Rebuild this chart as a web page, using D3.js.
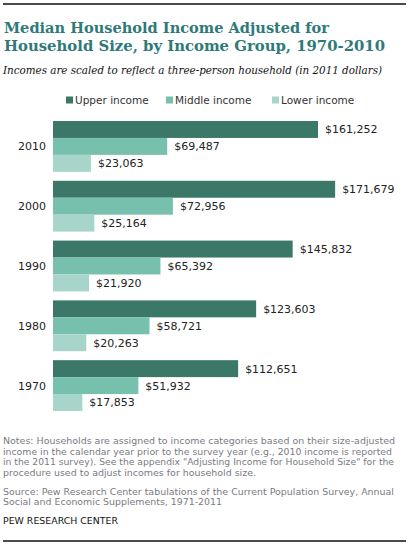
<!DOCTYPE html>
<html lang="en">
    <head>
       <script src="https://d3js.org/d3.v7.min.js"></script>
       <style>
           body { margin: 0; background: #fff; }
       </style>
    </head>
    <body>

        <script>
            var width  = 412;
            var height = 546;

            // chart data
            var years  = ["2010", "2000", "1990", "1980", "1970"];
            var series = ["Upper income", "Middle income", "Lower income"];
            var upper  = [161252, 171679, 145832, 123603, 112651];
            var middle = [69487, 72956, 65392, 58721, 51932];
            var lower  = [23063, 25164, 21920, 20263, 17853];
            var colors = ["#3b7867", "#78c0ae", "#a8d5c9"];

            var notes = [
                "Notes: Households are assigned to income categories based on their size-adjusted",
                "income in the calendar year prior to the survey year (e.g., 2010 income is reported",
                "in the 2011 survey).  See the appendix \"Adjusting Income  for Household Size\" for the",
                "procedure used to adjust incomes for household size."
            ];
            var notesWidth = [392, 389, 391, 253];
            var source = [
                "Source: Pew Research Center tabulations of the Current Population Survey, Annual",
                "Social and Economic Supplements, 1971-2011"
            ];
            var sourceWidth = [391, 219];

            var values = [upper, middle, lower];

            // setup the canvas
            var svg = d3.select("body")
                        .append("svg")
                        .attr("width", width)
                        .attr("height", height);

            // rules top and bottom
            svg.append("line").attr("x1", 3).attr("x2", 406).attr("y1", 4).attr("y2", 4)
               .style("stroke", "#111").style("stroke-width", 1.5);
            svg.append("line").attr("x1", 3).attr("x2", 406).attr("y1", 541).attr("y2", 541)
               .style("stroke", "#111").style("stroke-width", 1.5);

            // title + subtitle
            var title = ["Median Household Income Adjusted for", "Household Size, by Income Group, 1970-2010"];
            var titleWidth = [325, 381];
            svg.selectAll(".title").data(title).enter().append("text")
               .attr("x", 4)
               .attr("y", function(d, i) { return 33 + i * 18; })
               .attr("textLength", function(d, i) { return titleWidth[i]; })
               .attr("lengthAdjust", "spacingAndGlyphs")
               .style("font-family", "'DejaVu Serif', Georgia, serif")
               .style("font-weight", "bold")
               .style("font-size", "14.5px")
               .style("fill", "#2f7a78")
               .text(function(d) { return d; });

            svg.append("text")
               .attr("x", 3).attr("y", 74)
               .attr("textLength", 379)
               .attr("lengthAdjust", "spacingAndGlyphs")
               .style("font-family", "'DejaVu Serif', Georgia, serif")
               .style("font-style", "italic")
               .style("font-size", "11px")
               .style("fill", "#111")
               .text("Incomes are scaled to reflect a three-person household (in 2011 dollars)");

            // legend
            var legendX = [66, 166, 272];
            var legend = svg.selectAll(".legend").data(series).enter().append("g")
               .attr("transform", function(d, i) { return "translate(" + legendX[i] + ",100)"; });
            legend.append("rect")
               .attr("x", 0).attr("y", -3.5).attr("width", 7).attr("height", 7)
               .style("fill", function(d, i) { return colors[i]; });
            legend.append("text")
               .attr("x", 9).attr("dy", "0.36em")
               .style("font-family", "'DejaVu Sans', Verdana, sans-serif")
               .style("font-size", "10.5px")
               .style("fill", "#333")
               .text(function(d) { return d; });

            // scales
            var x = d3.scaleLinear().domain([0, 200000]).range([53, 53 + 200000 * 265 / 161252]);
            var y0 = d3.scaleBand().domain(years).range([121, 411]).paddingInner(0.15);
            var y1 = d3.scaleBand().domain(series).range([0, y0.bandwidth()]);

            var groups = svg.selectAll(".year").data(years).enter().append("g")
               .attr("transform", function(d) { return "translate(0," + y0(d) + ")"; });

            groups.append("text")
               .attr("x", 46)
               .attr("y", y0.bandwidth() / 2)
               .attr("dy", "0.36em")
               .attr("text-anchor", "end")
               .style("font-family", "'DejaVu Sans', Verdana, sans-serif")
               .style("font-size", "11px")
               .style("fill", "#222")
               .text(function(d) { return d; });

            var fmt = d3.format("$,");
            series.forEach(function(s, si) {
                groups.append("rect")
                   .attr("x", x(0))
                   .attr("y", y1(s))
                   .attr("width", function(d, i) { return x(values[si][i]) - x(0); })
                   .attr("height", y1.bandwidth())
                   .style("fill", colors[si]);

                groups.append("text")
                   .attr("x", function(d, i) { return x(values[si][i]) + 7; })
                   .attr("y", y1(s) + y1.bandwidth() / 2)
                   .attr("dy", "0.36em")
                   .style("font-family", "'DejaVu Sans', Verdana, sans-serif")
                   .style("font-size", "11px")
                   .style("fill", "#222")
                   .text(function(d, i) { return fmt(values[si][i]); });
            });

            // notes + source
            svg.selectAll(".note").data(notes).enter().append("text")
               .attr("x", 3)
               .attr("y", function(d, i) { return 444 + i * 10.5; })
               .attr("textLength", function(d, i) { return notesWidth[i]; })
               .attr("lengthAdjust", "spacingAndGlyphs")
               .style("font-family", "'DejaVu Sans', Verdana, sans-serif")
               .style("font-size", "9px")
               .style("fill", "#7a7a82")
               .text(function(d) { return d; });

            svg.selectAll(".source").data(source).enter().append("text")
               .attr("x", 3)
               .attr("y", function(d, i) { return 494.5 + i * 10.5; })
               .attr("textLength", function(d, i) { return sourceWidth[i]; })
               .attr("lengthAdjust", "spacingAndGlyphs")
               .style("font-family", "'DejaVu Sans', Verdana, sans-serif")
               .style("font-size", "9px")
               .style("fill", "#7a7a82")
               .text(function(d) { return d; });

            svg.append("text")
               .attr("x", 3).attr("y", 524)
               .attr("textLength", 115)
               .attr("lengthAdjust", "spacingAndGlyphs")
               .style("font-family", "'DejaVu Sans', Verdana, sans-serif")
               .style("font-size", "9px")
               .style("fill", "#111")
               .text("PEW RESEARCH CENTER");
        </script>

    </body>
</html>
